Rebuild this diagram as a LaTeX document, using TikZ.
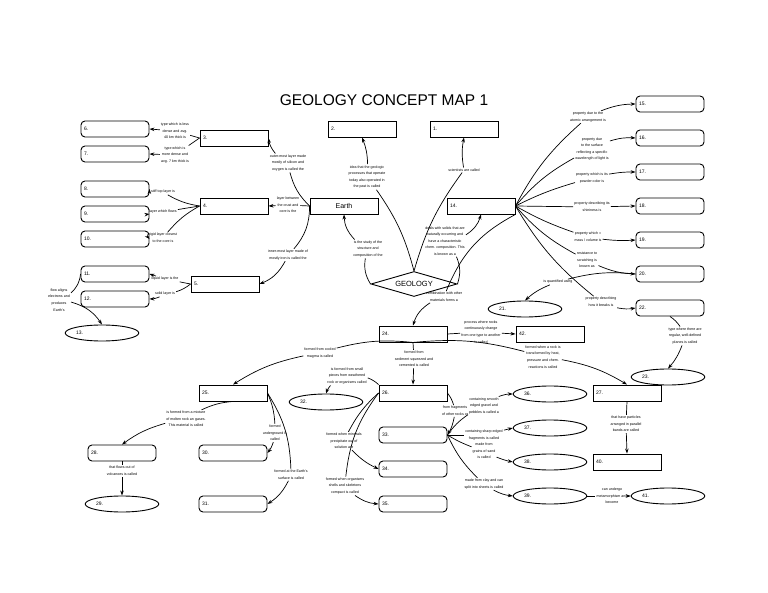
\documentclass[tikz,border=0pt]{standalone}
\usepackage{fontspec}
\setmainfont{Liberation Sans}
\usetikzlibrary{shapes.geometric,arrows.meta}
\begin{document}
\begin{tikzpicture}[x=1pt,y=-1pt,
  every node/.style={inner sep=1pt},
  rbox/.style={draw,line width=0.9pt,minimum width=68pt,minimum height=16pt,text width=62pt,align=left,font=\fontsize{5}{6}\selectfont,inner sep=2pt},
  rrbox/.style={rbox,rounded corners=4pt},
  ell/.style={draw,line width=0.9pt,ellipse,minimum width=70pt,minimum height=16pt,font=\fontsize{5}{6}\selectfont,text width=52pt,align=left,inner sep=0pt},
  lab/.style={font=\fontsize{3.6}{6.6}\selectfont,align=center},
  con/.style={line width=0.7pt},
  arr/.style={line width=0.7pt,-{Stealth[length=5pt,width=3.5pt]}}]
\useasboundingbox (0,0) rectangle (768,593);
\newcommand\lk[4][]{\draw[con,#1] (#2) to (#3); \draw[arr,#1] (#3) to (#4);}
\node[font=\fontsize{15.5}{16}\selectfont] (title) at (384,100) {GEOLOGY CONCEPT MAP 1};
% boxes
\node[rbox] (n2) at (362,129) {2.};
\node[rbox] (n1) at (464,129) {1.};
\node[rbox,align=center,font=\fontsize{7}{8}\selectfont] (earth) at (344,206) {Earth};
\node[rbox] (n14) at (481,206) {14.};
\node[draw,line width=0.9pt,diamond,aspect=3.6,minimum width=86pt,minimum height=25pt,inner sep=0pt,font=\fontsize{7.5}{8}\selectfont] (geo) at (414,284) {GEOLOGY};
\node[rbox] (n3) at (234,138) {3.};
\node[rbox] (n4) at (234,206) {4.};
\node[rbox] (n5) at (225,284) {5.};
\foreach \n/\y in {6/129,7/154,8/189,9/214,10/239,11/274,12/299}{\node[rrbox] (n\n) at (115,\y) {\n.};}
\node[ell] (n13) at (102,333) {13.};
\foreach \n/\y in {15/104,16/138,17/172,18/206,19/240,20/274,22/308}{\node[rrbox] (n\n) at (670,\y) {\n.};}
\node[ell] (n21) at (525,309) {21.};
\node[ell] (n23) at (668,377) {23.};
\node[rbox] (n24) at (413,334) {24.};
\node[rbox] (n42) at (550,334) {42.};
\node[rbox] (n25) at (233,393) {25.};
\node[rbox] (n26) at (413,393) {26.};
\node[rbox] (n27) at (627,393) {27.};
\node[rbox] (n40) at (627,462) {40.};
\node[ell] (n32) at (326,402) {32.};
\node[rrbox] (n33) at (413,435) {33.};
\node[rrbox] (n34) at (413,469) {34.};
\node[rrbox] (n35) at (413,504) {35.};
\node[rrbox] (n28) at (122,453) {28.};
\node[rrbox] (n30) at (233,453) {30.};
\node[ell] (n29) at (122,504) {29.};
\node[rrbox] (n31) at (233,504) {31.};
\node[ell] (n36) at (550,394) {36.};
\node[ell] (n37) at (550,428) {37.};
\node[ell] (n38) at (550,462) {38.};
\node[ell] (n39) at (550,496) {39.};
\node[ell] (n41) at (668,496) {41.};
% labels
\node[lab] (l6) at (175,131) {type which is less\\dense and avg.\\40 km thick is};
\node[lab] (l7) at (175,155) {type which is\\more dense and\\avg. 7 km thick is};
\node[lab] (l3) at (288,163) {outer-most layer made\\mostly of silicon and\\oxygen is called the};
\node[lab] (l8) at (163,192) {stiff top layer is};
\node[lab] (l9) at (163,212) {layer which flows};
\node[lab] (l10) at (163,238) {rigid layer closest\\to the core is};
\node[lab] (l4) at (288,205) {layer between\\the crust and\\core is the};
\node[lab] (l5) at (288,255) {inner-most layer made of\\mostly iron is called the};
\node[lab] (l11) at (165,279) {liquid layer is the};
\node[lab] (l12) at (165,294) {solid layer is};
\node[lab] (l13) at (59,300) {flow aligns\\electrons and\\produces\\Earth's};
\node[lab] (l2) at (367,177) {idea that the geologic\\processes that operate\\today also operated in\\the past is called};
\node[lab] (l1) at (464,170) {scientists are called};
\node[lab] (lE) at (368,249) {is the study of the\\structure and\\composition of the};
\node[lab] (l14) at (445,241) {deals with solids that are\\naturally occurring and\\have a characteristic\\chem. composition.  This\\is known as a};
\node[lab] (l24) at (444,297) {combination with other\\materials forms a};
\node[lab] (l15) at (588,117) {property due to the\\atomic arrangement is};
\node[lab] (l16) at (592,149) {property due\\to the surface\\reflecting a specific\\wavelength of light is};
\node[lab] (l17) at (592,178) {property which is its\\powder color is};
\node[lab] (l18) at (592,207) {property describing its\\shininess is};
\node[lab] (l19) at (588,237) {property which =\\mass / volume is};
\node[lab] (l20) at (587,260) {resistance to\\scratching is\\known as};
\node[lab] (l21) at (558,282) {is quantified using};
\node[lab] (l22) at (601,302) {property describing\\how it breaks is};
\node[lab] (l23) at (685,336) {type where there are\\regular, well-defined\\planes is called};
\node[lab] (l42) at (481,332) {process where rocks\\continuously change\\from one type to another\\is called};
\node[lab] (l25) at (320,353) {formed from cooled\\magma is called};
\node[lab] (l26) at (414,359) {formed from\\sediment squeezed and\\cemented is called};
\node[lab] (l27) at (543,357) {formed when a rock is\\transformed by heat,\\pressure and chem.\\reactions is called};
\node[lab] (l32) at (347,376) {is formed from small\\pieces from weathered\\rock or organisms called};
\node[lab] (l28) at (186,419) {is formed from a mixture\\of molten rock an gases.\\This material is called};
\node[lab] (l30) at (275,433) {formed\\underground is\\called};
\node[lab] (l29) at (122,471) {that flows out of\\volcanoes is called};
\node[lab] (l31) at (291,475) {formed at the Earth's\\surface is called};
\node[lab] (l34) at (344,441) {formed when minerals\\precipitate out of\\solution are};
\node[lab] (l35) at (345,486) {formed when organisms\\shells and skeletons\\compact is called};
\node[lab] (l33) at (455,411) {from fragments\\of other rocks or};
\node[lab] (l36) at (484,406) {containing smooth\\edged gravel and\\pebbles is called a};
\node[lab] (l37) at (484,435) {containing sharp edged\\fragments is called};
\node[lab] (l38) at (484,451) {made from\\grains of sand\\is called};
\node[lab] (l39) at (484,484) {made from clay and can\\split into sheets is called};
\node[lab] (l41) at (612,496) {can undergo\\metamorphism and\\become};
\node[lab] (l40) at (626,424) {that have particles\\arranged in parallel\\bands are called};
% connectors
\lk{n3.west}{l6}{n6.east}
\lk{n3.west}{l7}{n7.east}
\lk[bend left=15]{earth.west}{l3}{n3.east}
\lk{earth.west}{l4}{n4.east}
\lk[bend left=20]{earth.west}{l5}{n5.east}
\lk[bend left=10]{n4.west}{l8}{n8.east}
\lk{n4.west}{l9}{n9.east}
\lk[bend right=10]{n4.west}{l10}{n10.east}
\lk{n5.west}{l11}{n11.east}
\lk[bend left=10]{n5.west}{l12}{n12.east}
\lk[bend left=20]{n11.west}{l13}{n13.north}
\lk[bend right=10]{geo.north}{l2}{n2.south}
\lk[bend left=10]{geo.north}{l1}{n1.south}
\lk[bend left=20]{geo.west}{lE}{earth.south}
\lk[bend right=20]{geo.east}{l14}{n14.south}
\lk[bend right=20]{n14.south east}{l24}{n24.north}
\lk[bend left=10]{n14.east}{l15}{n15.west}
\lk[bend left=10]{n14.east}{l16}{n16.west}
\lk[bend left=5]{n14.east}{l17}{n17.west}
\lk{n14.east}{l18}{n18.west}
\lk[bend right=5]{n14.east}{l19}{n19.west}
\lk[bend right=10]{n14.east}{l20}{n20.west}
\lk[bend right=10]{n14.east}{l22}{n22.west}
\lk[bend right=10]{n20.west}{l21}{n21.north}
\lk[bend left=10]{n22.south}{l23}{n23.north}
\lk{n24.east}{l42}{n42.west}
\lk[bend right=10]{n24.south}{l25}{n25.north}
\lk{n24.south}{l26}{n26.north}
\lk[bend left=10]{n24.south}{l27}{n27.north}
\lk[bend right=10]{n26.north west}{l32}{n32.north}
\lk[bend right=10]{n25.south}{l28}{n28.north}
\lk[bend left=10]{n25.east}{l30}{n30.east}
\lk[bend left=15]{n25.east}{l31}{n31.east}
\lk{n28.south}{l29}{n29.north}
\lk[bend right=10]{n26.west}{l34}{n34.west}
\lk[bend right=15]{n26.west}{l35}{n35.west}
\lk[bend left=10]{n26.east}{l33}{n33.east}
\lk[bend left=10]{n33.east}{l36}{n36.west}
\lk{n33.east}{l37}{n37.west}
\lk[bend right=5]{n33.east}{l38}{n38.west}
\lk[bend right=10]{n33.east}{l39}{n39.west}
\lk{n39.east}{l41}{n41.west}
\lk{n27.south}{l40}{n40.north}
\end{tikzpicture}
\end{document}
